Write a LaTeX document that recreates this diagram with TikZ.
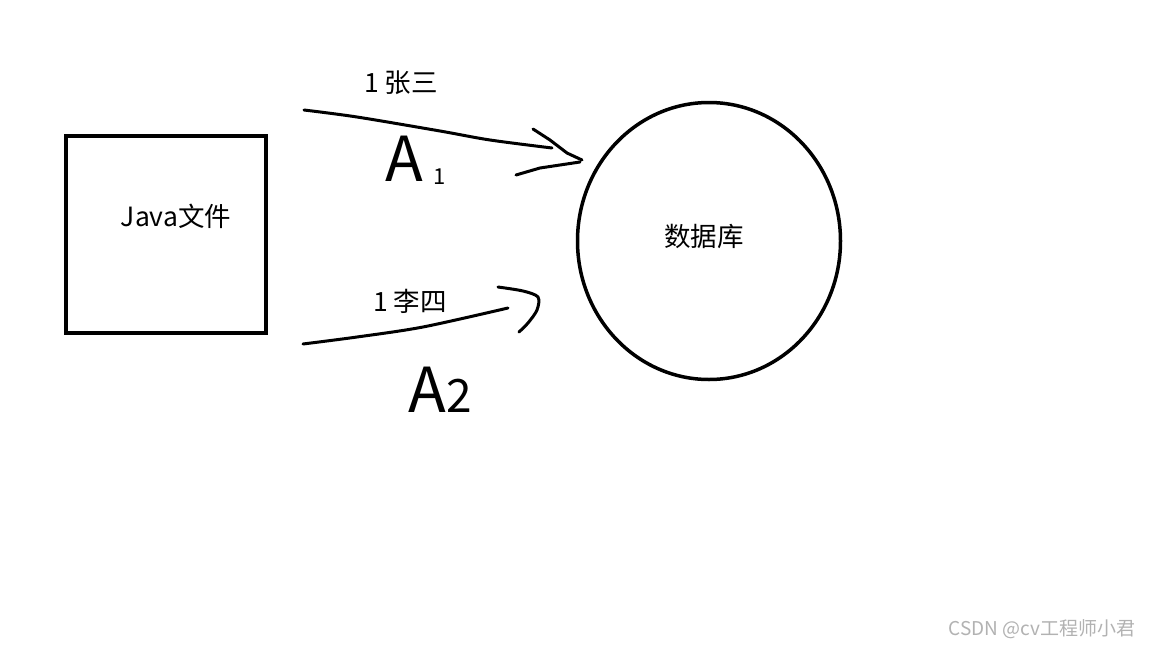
\documentclass[tikz,border=0pt]{standalone}
\usepackage{fontspec}
\setmainfont{Noto Sans CJK SC}
\usetikzlibrary{shapes.geometric}

\begin{document}
\begin{tikzpicture}[x=1pt,y=-1pt,
  pen/.style={line width=3pt, line cap=round, line join=round},
  txt/.style={font=\fontsize{26.5}{30}\selectfont, inner sep=0pt},
  hand/.style={font=\fontsize{62}{70}\selectfont, inner sep=0pt}]
\useasboundingbox[fill=white] (0,0) rectangle (1152,648);
% box and database
\node[draw, line width=4pt, minimum width=200pt, minimum height=197pt] (java) at (166,234.5) {};
\node[txt] (javatext) at (176,216) {Java文件};
\node[draw, ellipse, line width=3.5pt, minimum width=263pt, minimum height=277pt] (db) at (709,241) {};
\node[txt] (dbtext) at (704,236) {数据库};
% upper stroke
\coordinate (U1) at (304,110);
\coordinate (U2) at (357,117);
\coordinate (U3) at (440,131);
\coordinate (U4) at (490,140);
\coordinate (U5) at (552,148);
\draw[pen] plot[smooth] coordinates {(U1) (U2) (U3) (U4) (U5)};
\draw[pen] (533,129) -- (550,140) -- (567,153) -- (582,160);
\draw[pen] (516,175) -- (540,168) -- (580,162);
\node[txt] (zhang) at (401,83) {1 张三};
\node[hand] (a1) at (416,160) {A\,\raisebox{-3pt}{\fontsize{22}{22}\selectfont 1}};
% lower stroke
\coordinate (L1) at (303,344);
\coordinate (L2) at (357,337);
\coordinate (L3) at (423,327);
\coordinate (L4) at (508,308);
\draw[pen] plot[smooth] coordinates {(L1) (L2) (L3) (L4)};
\draw[pen] plot[smooth] coordinates {(498,287) (523,291) (538,297) (537,310) (528,323) (519,332)};
\node[txt] (lisi) at (410,301) {1 李四};
\node[hand] (a2) at (440,390) {A{\fontsize{46}{46}\selectfont 2}};
% watermark
\node[text=gray!60, font=\fontsize{19}{22}\selectfont, inner sep=0pt] (mark) at (1042,629) {CSDN @cv工程师小君};
\end{tikzpicture}
\end{document}
